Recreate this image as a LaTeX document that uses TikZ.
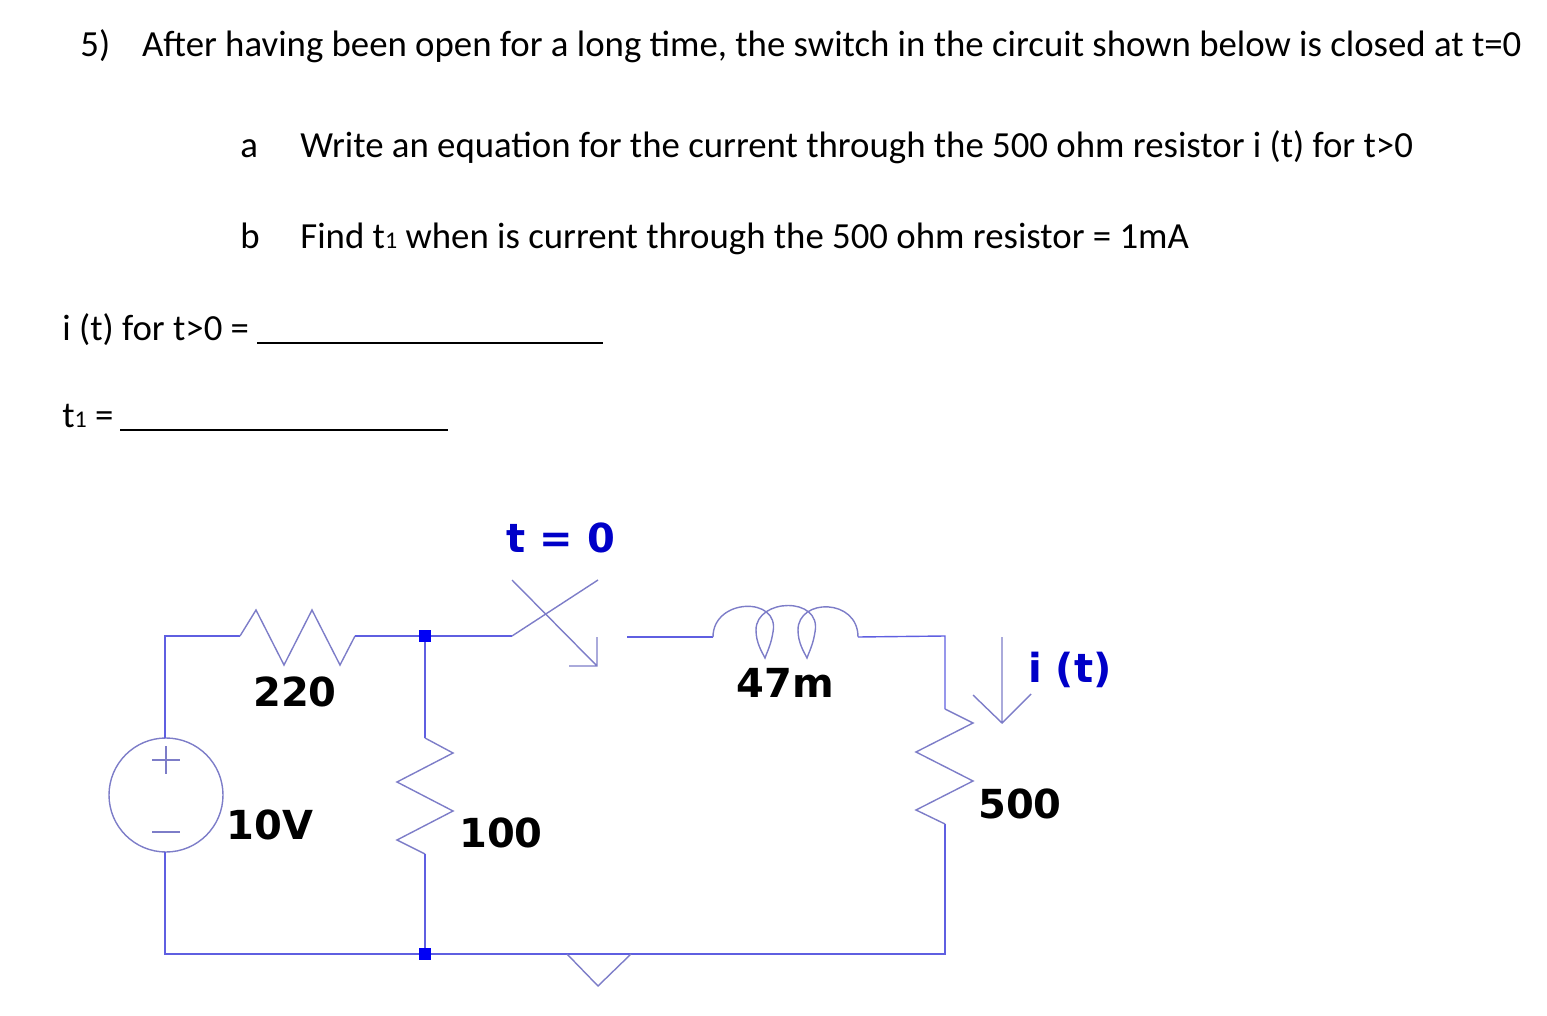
\documentclass[tikz,border=0pt]{standalone}
\usepackage{fontspec}
\setmainfont{Carlito}
\newfontfamily\lbl{DejaVu Sans}
\definecolor{wire}{RGB}{95,95,225}
\definecolor{comp}{RGB}{125,125,200}
\definecolor{junc}{RGB}{0,0,245}
\definecolor{lblue}{RGB}{0,0,200}
\begin{document}
\begin{tikzpicture}[x=0.5pt,y=-0.5pt,
  w/.style={draw=wire,line width=0.7pt},
  c/.style={draw=comp,line width=0.7pt},
  txt/.style={font=\fontsize{18.4}{21}\selectfont,anchor=base west,inner sep=0},
  val/.style={font=\lbl\bfseries\fontsize{20}{24}\selectfont,inner sep=0},
  dot/.style={fill=junc,minimum size=6pt,inner sep=0}]
\useasboundingbox (0,0) rectangle (1547,1016);
% texts
\node[txt] (q) at (80,57) {5)\hspace{16pt}After having been open for a long time, the switch in the circuit shown below is closed at t=0};
\node[txt] (la) at (240,158) {a};
\node[txt] (ta) at (300,158) {Write an equation for the current through the 500 ohm resistor i (t) for t>0};
\node[txt] (lb) at (240,249) {b};
\node[txt] (tb) at (300,249) {Find t{\fontsize{12}{12}\selectfont 1} when is current through the 500 ohm resistor = 1mA};
\node[txt] (ia) at (62,340) {i (t) for t>0 =};
\node[txt] (t1) at (62,427) {t{\fontsize{12}{12}\selectfont 1} =};
\coordinate (u1a) at (257,343); \coordinate (u1b) at (603,343);
\coordinate (u2a) at (120,430); \coordinate (u2b) at (448,430);
\draw[line width=0.9pt] (u1a) -- (u1b);
\draw[line width=0.9pt] (u2a) -- (u2b);
% coordinates
\coordinate (TL) at (165,636); \coordinate (BL) at (165,954);
\coordinate (J1) at (425,636); \coordinate (J2) at (425,954);
\coordinate (TR) at (945,636); \coordinate (BR) at (945,954);
\coordinate (Vt) at (165,738); \coordinate (Vb) at (165,852);
% source
\node[circle,draw=comp,line width=0.7pt,minimum size=57pt,inner sep=0] (V) at (166,795) {};
\draw[c] (152,760) -- (180,760) (166,746) -- (166,774) (152,832) -- (180,832);
\draw[w] (Vt) -- (TL) -- (240,636);
\draw[w] (Vb) -- (BL) -- (BR) -- (945,824);
% 220
\draw[c] (240,636) -- (256,610) -- (284,665) -- (312,610) -- (340,665) -- (355,636);
\draw[w] (355,636) -- (J1) -- (512,636);
% 100
\draw[w] (J1) -- (425,738);
\draw[c] (425,738) -- (453,753) -- (397,782) -- (453,811) -- (397,840) -- (425,854);
\draw[w] (425,854) -- (J2);
\node[dot] (d1) at (J1) {};
\node[dot] (d2) at (J2) {};
% switch
\draw[c] (512,636) -- (598,580);
\draw[c] (512,580) -- (597,666) (597,637) -- (597,666) -- (569,666);
\draw[w] (627,637) -- (713,637);
% inductor
\draw[c] (713,637) .. controls (713,598) and (780,596) .. (773,632)
  .. controls (771,645) and (767,652) .. (765,658)
  .. controls (762,652) and (756,643) .. (756,630)
  .. controls (756,598) and (822,596) .. (815,632)
  .. controls (813,645) and (809,652) .. (807,658)
  .. controls (804,652) and (798,643) .. (798,630)
  .. controls (798,598) and (858,598) .. (858,637);
\draw[w] (858,637) -- (TR) -- (945,709);
% 500
\draw[c] (945,709) -- (973,723) -- (916,752) -- (973,781) -- (916,810) -- (945,824);
% current arrow
\draw[c] (1002,637) -- (1002,723) (973,695) -- (1002,723) -- (1031,694);
% ground
\draw[c] (567,954) -- (598,986) -- (631,954);
% labels
\node[val] (l220) at (295,692) {220};
\node[val] (l10) at (270,825) {10V};
\node[val] (l100) at (501,833) {100};
\node[val] (l47) at (785,683) {47m};
\node[val] (l500) at (1020,804) {500};
\node[val,text=lblue] (lt0) at (561,538) {t = 0};
\node[val,text=lblue] (lit) at (1070,670) {i (t)};
\end{tikzpicture}
\end{document}
